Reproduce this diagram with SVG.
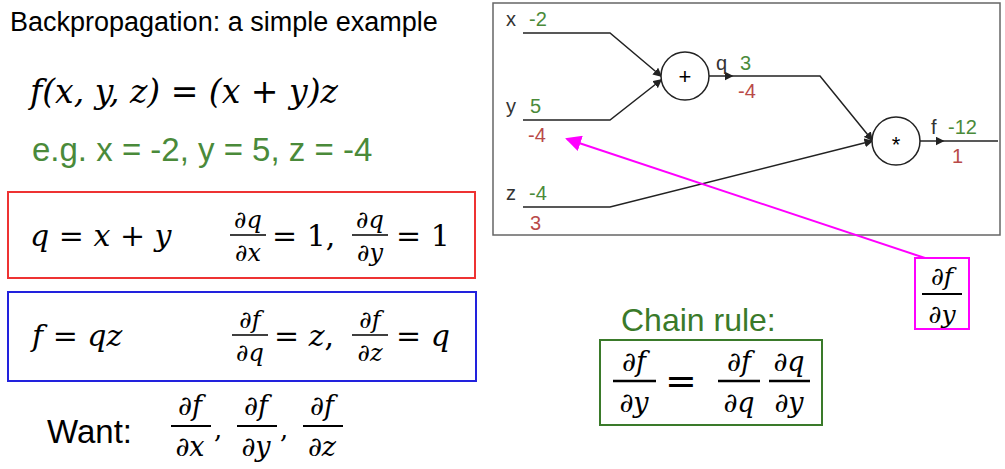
<svg xmlns="http://www.w3.org/2000/svg" width="1005" height="469" viewBox="0 0 1005 469">
<style>
.s{font-family:"Liberation Sans",Arial,sans-serif}
.m{font-family:"DejaVu Serif","Liberation Serif",serif;font-style:italic}
.r{font-family:"DejaVu Serif","Liberation Serif",serif}
.g{fill:#4a8a3a}.d{fill:#b94a48}
.ln{fill:none;stroke:#222;stroke-width:1.5}
.lb{font-family:"Liberation Sans",Arial,sans-serif;font-size:20px}
</style>
<defs>
<marker id="a" markerWidth="6" markerHeight="6" refX="5" refY="3" orient="auto"><path d="M0,0L6,3L0,6z" fill="#222"/></marker>
<marker id="pm" markerWidth="8" markerHeight="8" refX="7" refY="4" orient="auto"><path d="M0,0L8,4L0,8z" fill="#f0f"/></marker>
</defs>
<rect width="1005" height="469" fill="#fff"/>
<text class="s" x="10" y="31" font-size="27">Backpropagation: a simple example</text>
<text class="m" x="30" y="103" font-size="33">f<tspan class="r">(</tspan>x<tspan class="r">,</tspan> y<tspan class="r">,</tspan> z<tspan class="r">) = (</tspan>x<tspan class="r"> + </tspan>y<tspan class="r">)</tspan>z</text>
<text class="s g" x="32" y="161" font-size="33">e.g. x = -2, y = 5, z = -4</text>
<g id="eqq">
<rect x="8" y="192" width="467" height="86" fill="none" stroke="#e33" stroke-width="2"/>
<text class="m" x="30" y="246" font-size="30">q<tspan class="r"> = </tspan>x<tspan class="r"> + </tspan>y</text>
<g font-size="24" text-anchor="middle"><text class="m" x="248" y="228">∂q</text><text class="m" x="248" y="261">∂x</text><text class="m" x="370" y="228">∂q</text><text class="m" x="370" y="261">∂y</text></g>
<path d="M230,235H266M352,235H388" stroke="#000" stroke-width="1.5"/>
<text class="r" x="272" y="246" font-size="30">= 1,</text><text class="r" x="396" y="246" font-size="30">= 1</text>
</g>
<g id="eqf">
<rect x="8" y="292" width="468" height="89" fill="none" stroke="#22d" stroke-width="2"/>
<text class="m" x="32" y="346" font-size="30">f<tspan class="r"> = </tspan>qz</text>
<g font-size="24" text-anchor="middle"><text class="m" x="250" y="328">∂f</text><text class="m" x="250" y="361">∂q</text><text class="m" x="370" y="328">∂f</text><text class="m" x="370" y="361">∂z</text></g>
<path d="M232,335H268M352,335H388" stroke="#000" stroke-width="1.5"/>
<text class="r" x="274" y="346" font-size="30">= <tspan class="m">z</tspan>,</text><text class="r" x="396" y="346" font-size="30">= <tspan class="m">q</tspan></text>
</g>
<g id="want">
<text class="s" x="47" y="443" font-size="33">Want:</text>
<g font-size="27" text-anchor="middle"><text class="m" x="190" y="415">∂f</text><text class="m" x="190" y="456">∂x</text><text class="m" x="256" y="415">∂f</text><text class="m" x="256" y="456">∂y</text><text class="m" x="322" y="415">∂f</text><text class="m" x="322" y="456">∂z</text></g>
<path d="M171,426H211M237,426H277M303,426H343" stroke="#000" stroke-width="2"/>
<text class="r" x="214" y="438" font-size="26">,</text><text class="r" x="280" y="438" font-size="26">,</text>
</g>
<g id="graph">
<rect x="493" y="3" width="507" height="232" fill="#fff" stroke="#666" stroke-width="1.5"/>
</g>
<g id="connectors">
<path class="ln" d="M523,33H610L661,76" marker-end="url(#a)"/>
<path class="ln" d="M523,120H610L661,80" marker-end="url(#a)"/>
<path class="ln" d="M709,76H732"  marker-end="url(#a)"/><path class="ln" d="M730,76H820L872,140" marker-end="url(#a)"/>
<path class="ln" d="M523,207H610L872,141" marker-end="url(#a)"/>
<path class="ln" d="M920,141H943" marker-end="url(#a)"/><path class="ln" d="M941,141H998"/>
<path d="M925,258L567,139" stroke="#f0f" stroke-width="2" fill="none" marker-end="url(#pm)"/>
</g>
<g id="plus"><circle cx="685" cy="76" r="24" fill="#fff" stroke="#222" stroke-width="1.5"/><text class="s" x="685" y="84" font-size="22" text-anchor="middle">+</text></g>
<g id="mul"><circle cx="896" cy="141" r="24" fill="#fff" stroke="#222" stroke-width="1.5"/><text class="s" x="896" y="152" font-size="22" text-anchor="middle">*</text></g>
<g>
<text class="lb" x="506" y="26" fill="#333">x</text><text class="lb g" x="529" y="26">-2</text>
<text class="lb" x="506" y="113" fill="#333">y</text><text class="lb g" x="530" y="113">5</text><text class="lb d" x="528" y="142">-4</text>
<text class="lb" x="506" y="200" fill="#333">z</text><text class="lb g" x="529" y="200">-4</text><text class="lb d" x="530" y="230">3</text>
<text class="lb" x="716" y="70" fill="#333">q</text><text class="lb g" x="740" y="70">3</text><text class="lb d" x="738" y="98">-4</text>
<text class="lb" x="931" y="134" fill="#333">f</text><text class="lb g" x="948" y="134">-12</text><text class="lb d" x="952" y="163">1</text>
</g>
<g id="dfdy">
<rect x="915" y="258" width="54" height="71" fill="none" stroke="#f0f" stroke-width="2"/>
<g font-size="25" text-anchor="middle"><text class="m" x="942" y="285">∂f</text><text class="m" x="942" y="323">∂y</text></g>
<path d="M922,294H962" stroke="#000" stroke-width="2"/>
</g>
<g id="chain">
<text class="s" x="621" y="331" font-size="32" fill="#3a7a2a">Chain rule:</text>
<rect x="600" y="340" width="222" height="85" fill="none" stroke="#3a7a2a" stroke-width="2"/>
<g font-size="27" text-anchor="middle"><text class="m" x="634" y="371">∂f</text><text class="m" x="634" y="412">∂y</text><text class="m" x="739" y="371">∂f</text><text class="m" x="739" y="412">∂q</text><text class="m" x="789" y="371">∂q</text><text class="m" x="789" y="412">∂y</text></g>
<path d="M613,381H656M718,381H760M769,381H810" stroke="#000" stroke-width="2.5"/>
<text class="r" x="665" y="394" font-size="38">=</text>
</g>
</svg>
